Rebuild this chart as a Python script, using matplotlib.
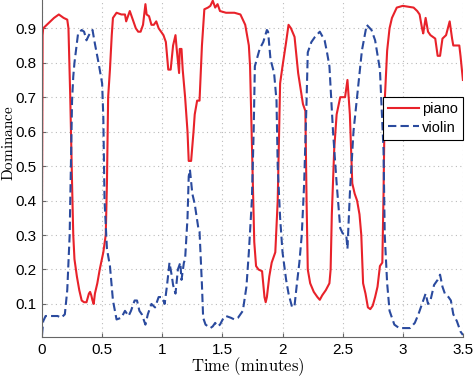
import matplotlib
matplotlib.use("Agg")
import matplotlib.pyplot as plt

# Data
piano_t = [0.00, 0.005, 0.01, 0.04, 0.07, 0.10, 0.14, 0.18, 0.21, 0.22, 0.235, 0.25, 0.26, 0.27,
           0.29, 0.31, 0.33, 0.35, 0.37, 0.39, 0.40, 0.41, 0.42, 0.43, 0.44, 0.46, 0.48, 0.51,
           0.53, 0.54, 0.55, 0.565, 0.58, 0.59, 0.62, 0.66, 0.69, 0.70, 0.73, 0.75, 0.78, 0.80,
           0.82, 0.84, 0.86, 0.87, 0.89, 0.91, 0.93, 0.95, 0.97, 0.99, 1.01, 1.03, 1.05, 1.07,
           1.09, 1.11, 1.12, 1.14, 1.145, 1.16, 1.17, 1.19, 1.21, 1.22, 1.24, 1.26, 1.27, 1.29,
           1.31, 1.33, 1.35, 1.38, 1.40, 1.42, 1.44, 1.46, 1.48, 1.53, 1.60, 1.65, 1.69, 1.72,
           1.73, 1.75, 1.765, 1.78, 1.80, 1.83, 1.85, 1.86, 1.87, 1.89, 1.91, 1.94, 1.96, 1.98,
           2.00, 2.03, 2.05, 2.07, 2.10, 2.13, 2.17, 2.19, 2.20, 2.21, 2.23, 2.26, 2.29, 2.31,
           2.33, 2.36, 2.39, 2.40, 2.41, 2.43, 2.45, 2.48, 2.52, 2.54, 2.56, 2.58, 2.60, 2.62,
           2.64, 2.655, 2.67, 2.69, 2.71, 2.73, 2.75, 2.77, 2.79, 2.81, 2.83, 2.84, 2.85, 2.87,
           2.89, 2.91, 2.95, 3.00, 3.09, 3.12, 3.14, 3.16, 3.17, 3.19, 3.21, 3.23, 3.27, 3.29,
           3.31, 3.33, 3.36, 3.39, 3.41, 3.42, 3.47, 3.48, 3.50]
piano_v = [0.37, 0.88, 0.90, 0.91, 0.92, 0.93, 0.94, 0.93, 0.925, 0.90, 0.70, 0.45, 0.30, 0.23,
           0.18, 0.14, 0.11, 0.105, 0.105, 0.13, 0.135, 0.125, 0.11, 0.10, 0.13, 0.16, 0.20, 0.25,
           0.30, 0.45, 0.70, 0.78, 0.88, 0.93, 0.945, 0.94, 0.94, 0.92, 0.95, 0.93, 0.90, 0.89,
           0.89, 0.91, 0.97, 0.94, 0.935, 0.91, 0.91, 0.92, 0.90, 0.89, 0.88, 0.86, 0.78, 0.78,
           0.85, 0.88, 0.84, 0.77, 0.84, 0.84, 0.78, 0.70, 0.60, 0.515, 0.515, 0.60, 0.65, 0.69,
           0.69, 0.85, 0.955, 0.96, 0.965, 0.98, 0.96, 0.97, 0.95, 0.945, 0.945, 0.94, 0.91, 0.85,
           0.79, 0.50, 0.28, 0.21, 0.20, 0.195, 0.12, 0.105, 0.12, 0.18, 0.22, 0.25, 0.40, 0.74,
           0.79, 0.86, 0.91, 0.90, 0.875, 0.77, 0.68, 0.66, 0.40, 0.20, 0.16, 0.135, 0.12, 0.112,
           0.125, 0.14, 0.16, 0.20, 0.36, 0.55, 0.65, 0.70, 0.70, 0.75, 0.65, 0.45, 0.42, 0.40,
           0.36, 0.30, 0.16, 0.13, 0.09, 0.085, 0.095, 0.12, 0.15, 0.21, 0.22, 0.42, 0.69, 0.835,
           0.90, 0.93, 0.96, 0.965, 0.96, 0.95, 0.94, 0.90, 0.885, 0.93, 0.89, 0.88, 0.87, 0.82,
           0.82, 0.87, 0.88, 0.92, 0.87, 0.85, 0.85, 0.82, 0.75]

violin_t = [0.00, 0.01, 0.03, 0.08, 0.13, 0.16, 0.19, 0.21, 0.23, 0.25, 0.26, 0.27, 0.30, 0.33,
            0.35, 0.37, 0.39, 0.41, 0.42, 0.44, 0.47, 0.50, 0.51, 0.52, 0.54, 0.565, 0.59, 0.62,
            0.66, 0.69, 0.72, 0.74, 0.77, 0.79, 0.81, 0.83, 0.86, 0.88, 0.91, 0.94, 0.97, 1.00,
            1.02, 1.04, 1.06, 1.08, 1.09, 1.11, 1.13, 1.15, 1.16, 1.18, 1.19, 1.21, 1.22, 1.23,
            1.25, 1.27, 1.30, 1.31, 1.33, 1.34, 1.36, 1.38, 1.40, 1.42, 1.44, 1.46, 1.48, 1.51,
            1.53, 1.57, 1.60, 1.63, 1.67, 1.70, 1.72, 1.745, 1.76, 1.77, 1.81, 1.84, 1.87, 1.88,
            1.90, 1.93, 1.95, 1.96, 1.98, 2.00, 2.03, 2.05, 2.08, 2.10, 2.12, 2.14, 2.16, 2.18,
            2.20, 2.21, 2.24, 2.27, 2.31, 2.35, 2.37, 2.39, 2.42, 2.45, 2.48, 2.50, 2.53, 2.54,
            2.56, 2.59, 2.62, 2.66, 2.70, 2.74, 2.77, 2.81, 2.84, 2.85, 2.87, 2.89, 2.93, 2.97,
            3.00, 3.06, 3.10, 3.13, 3.16, 3.18, 3.19, 3.21, 3.23, 3.26, 3.29, 3.31, 3.33, 3.35,
            3.38, 3.40, 3.42, 3.45, 3.48, 3.50]
violin_v = [0.01, 0.05, 0.065, 0.065, 0.065, 0.06, 0.07, 0.14, 0.30, 0.69, 0.76, 0.80, 0.885, 0.895,
            0.89, 0.865, 0.88, 0.89, 0.895, 0.855, 0.80, 0.74, 0.64, 0.40, 0.26, 0.21, 0.11, 0.055,
            0.06, 0.08, 0.065, 0.08, 0.11, 0.11, 0.08, 0.07, 0.04, 0.07, 0.10, 0.09, 0.12, 0.12,
            0.10, 0.155, 0.22, 0.18, 0.155, 0.13, 0.20, 0.22, 0.17, 0.22, 0.23, 0.35, 0.47, 0.49,
            0.42, 0.39, 0.32, 0.31, 0.155, 0.06, 0.04, 0.035, 0.03, 0.035, 0.045, 0.035, 0.04, 0.06,
            0.065, 0.06, 0.055, 0.06, 0.08, 0.15, 0.25, 0.40, 0.60, 0.79, 0.84, 0.86, 0.895, 0.89,
            0.81, 0.77, 0.69, 0.50, 0.35, 0.25, 0.17, 0.13, 0.09, 0.095, 0.16, 0.22, 0.30, 0.45,
            0.69, 0.83, 0.86, 0.875, 0.89, 0.865, 0.83, 0.79, 0.60, 0.45, 0.32, 0.305, 0.30, 0.26,
            0.42, 0.60, 0.70, 0.835, 0.91, 0.895, 0.865, 0.78, 0.545, 0.30, 0.16, 0.08, 0.04, 0.03,
            0.03, 0.03, 0.045, 0.07, 0.10, 0.12, 0.13, 0.10, 0.11, 0.155, 0.17, 0.185, 0.15, 0.13,
            0.12, 0.11, 0.07, 0.05, 0.02, 0.01]

x_ticks = [0, 0.5, 1, 1.5, 2, 2.5, 3, 3.5]
x_tick_labels = ["0", "0.5", "1", "1.5", "2", "2.5", "3", "3.5"]
y_ticks = [0.1, 0.2, 0.3, 0.4, 0.5, 0.6, 0.7, 0.8, 0.9]
y_tick_labels = ["0.1", "0.2", "0.3", "0.4", "0.5", "0.6", "0.7", "0.8", "0.9"]

# Figure
plt.rcParams['font.family'] = ['Liberation Sans', 'DejaVu Sans']
plt.rcParams['mathtext.fontset'] = 'cm'
fig = plt.figure(figsize=(4.74, 3.77), dpi=100)
ax = fig.add_axes([0.0886, 0.106, 0.888, 0.894])

# Plotting
ax.plot(piano_t, piano_v, color='#e8222a', linewidth=1.5, label='piano')
ax.plot(violin_t, violin_v, color='#2a4a9e', linewidth=1.5, linestyle=(0, (4, 2)), label='violin')

# Axes
ax.set_xlim(0, 3.5)
ax.set_ylim(0.004, 0.982)
ax.set_xticks(x_ticks)
ax.set_xticklabels(x_tick_labels)
ax.set_yticks(y_ticks)
ax.set_yticklabels(y_tick_labels)
ax.tick_params(direction='in', length=3, color='#666666', labelsize=11, pad=4)
ax.grid(True, color='#bbbbbb', linestyle=(0, (1, 3)), linewidth=0.8)
for side in ['top', 'right']:
    ax.spines[side].set_visible(False)
for side in ['left', 'bottom']:
    ax.spines[side].set_color('#666666')

# Labels
ax.set_xlabel(r'$\mathrm{Time\ (minutes)}$', fontsize=12)
ax.xaxis.set_label_coords(0.49, -0.055)
ax.set_ylabel(r'$\mathrm{Dominance}$', fontsize=11)
ax.yaxis.set_label_coords(-0.062, 0.576)

# Legend
leg = ax.legend(loc='upper right', bbox_to_anchor=(1.0, 0.712), borderaxespad=0,
                fontsize=10.5, fancybox=False, edgecolor='black', framealpha=1,
                handlelength=2.1, handletextpad=0.2, labelspacing=0.3, borderpad=0.35)
leg.get_frame().set_linewidth(0.8)

plt.savefig('out.png', dpi=100)
